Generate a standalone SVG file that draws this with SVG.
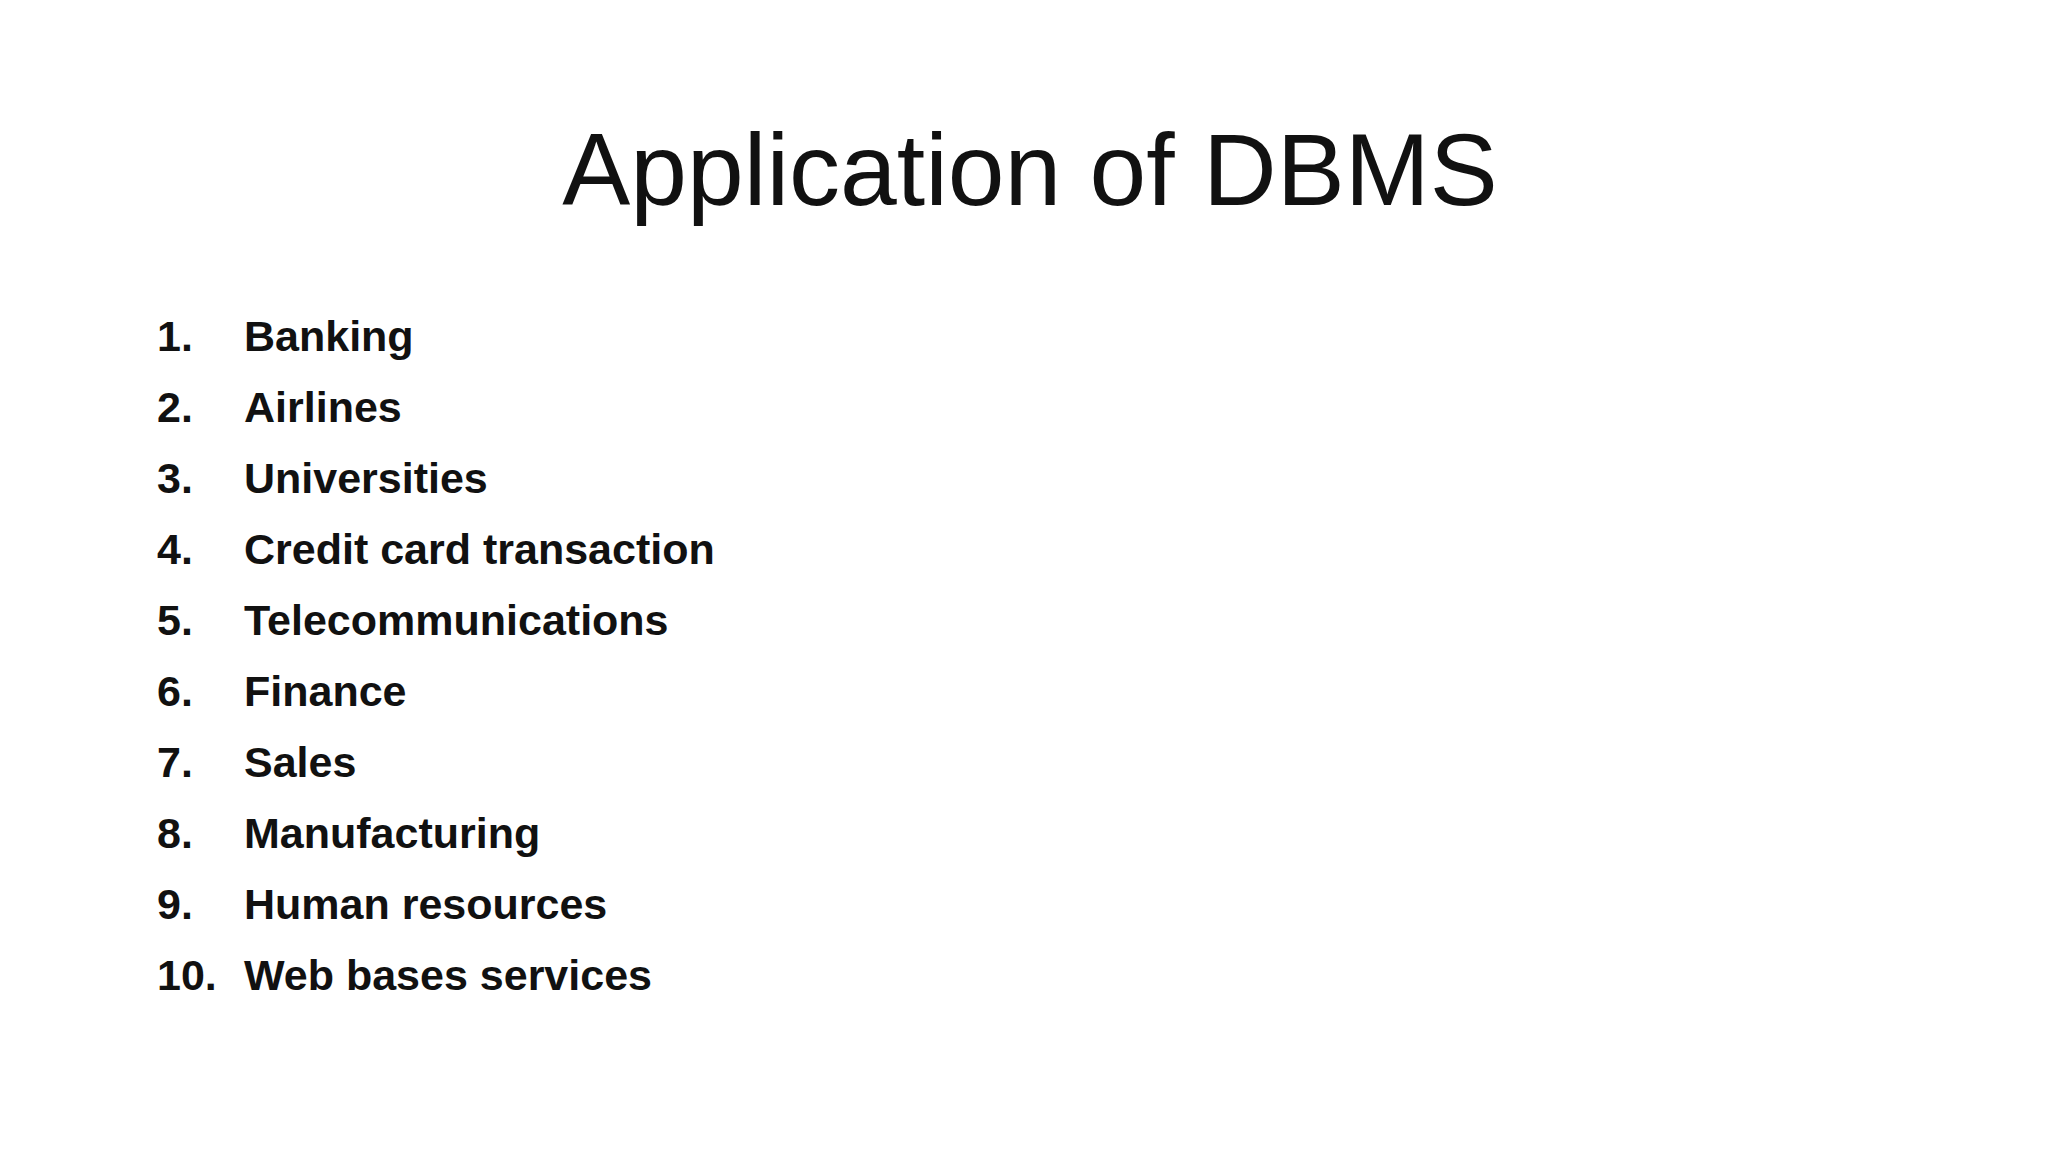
<svg xmlns="http://www.w3.org/2000/svg" width="2048" height="1152" viewBox="0 0 2048 1152">
<style>
.t{font-family:"Liberation Sans",Arial,sans-serif;font-size:102px;fill:#111}
.i{font-family:"Liberation Sans",Arial,sans-serif;font-size:43px;font-weight:bold;fill:#111}
</style>
<rect width="2048" height="1152" fill="#fff"/>
<g id="title"><text class="t" x="1030" y="205" text-anchor="middle">Application of DBMS</text></g>
<g id="list">
<text class="i" x="157" y="351">1.</text><text class="i" x="244" y="351">Banking</text>
<text class="i" x="157" y="422">2.</text><text class="i" x="244" y="422">Airlines</text>
<text class="i" x="157" y="493">3.</text><text class="i" x="244" y="493">Universities</text>
<text class="i" x="157" y="564">4.</text><text class="i" x="244" y="564">Credit card transaction</text>
<text class="i" x="157" y="635">5.</text><text class="i" x="244" y="635">Telecommunications</text>
<text class="i" x="157" y="706">6.</text><text class="i" x="244" y="706">Finance</text>
<text class="i" x="157" y="777">7.</text><text class="i" x="244" y="777">Sales</text>
<text class="i" x="157" y="848">8.</text><text class="i" x="244" y="848">Manufacturing</text>
<text class="i" x="157" y="919">9.</text><text class="i" x="244" y="919">Human resources</text>
<text class="i" x="157" y="990">10.</text><text class="i" x="244" y="990">Web bases services</text>
</g>
</svg>
